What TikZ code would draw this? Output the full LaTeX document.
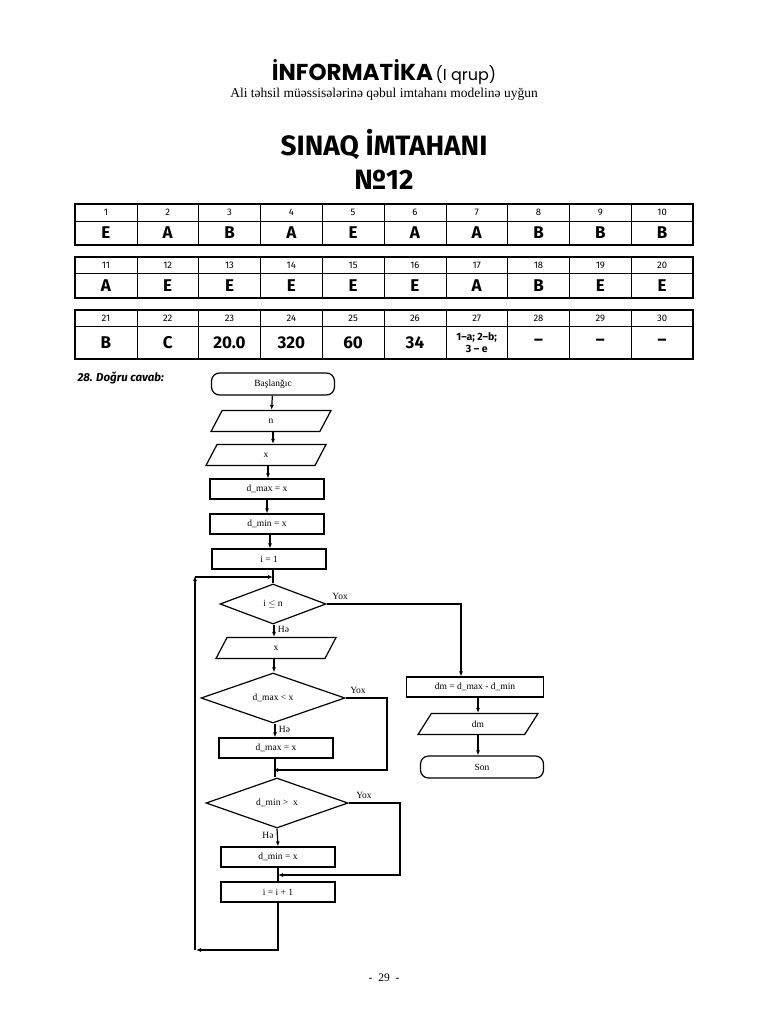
\documentclass[tikz,border=0pt]{standalone}
\usepackage{fontspec}
\setmainfont{Liberation Serif}
\newfontfamily\headfont{Poppins}
\newfontfamily\tabfont[Numbers=Lining]{Fira Sans}
\usetikzlibrary{shapes.geometric,arrows.meta,positioning}

\tikzset{
  blk/.style={draw, line width=1.2pt, minimum height=20pt, font=\fontsize{9.5}{10}\selectfont},
  proc/.style={blk, rectangle, minimum width=114pt},
  io/.style={blk, trapezium, trapezium left angle=45, trapezium right angle=135,
    trapezium stretches body, minimum width=120pt, minimum height=21pt},
  term/.style={blk, rectangle, rounded corners=8pt, minimum width=123pt, minimum height=22pt},
  cond/.style={blk, diamond, aspect=2.6, inner sep=0pt},
  flow/.style={line width=1.2pt, -{Latex[length=5pt,width=4pt]}},
  line/.style={line width=1.2pt},
  lbl/.style={font=\fontsize{9.5}{10}\selectfont}
}

\begin{document}
\begin{tikzpicture}[x=1pt,y=-1pt]
  \useasboundingbox (0,0) rectangle (768,1024);

  % Header
  \node at (384,72) {{\headfont\fontsize{23}{26}\selectfont\bfseries İNFORMATİKA} {\headfont\fontsize{16}{18}\selectfont(I qrup)}};
  \node at (384,94) {\fontsize{13.5}{15}\selectfont Ali təhsil müəssisələrinə qəbul imtahanı modelinə uyğun};
  \node at (384,144) {\tabfont\bfseries\fontsize{28}{30}\selectfont SINAQ İMTAHANI};
  \node at (384,180) {\tabfont\bfseries\fontsize{28}{30}\selectfont №12};

  % Answer table
  \def\cw{61.8}
  \foreach \top/\mid/\bot/\first/\answers in {
      204/221/245/1/{E,A,B,A,E,A,A,B,B,B},
      257/273/298/11/{A,E,E,E,E,E,A,B,E,E},
      310/326/359/21/{B,C,20.0,320,60,34,{\shortstack{1–a; 2–b;\\3 – e}},–,–,–}} {
    \draw[line width=0.5pt] (75,\mid) -- (693,\mid);
    \foreach \k in {1,...,9}
      \draw[line width=0.5pt] (75+\k*\cw,\top) -- (75+\k*\cw,\bot);
    \draw[line width=2pt] (75,\top) rectangle (693,\bot);
    \foreach \a [count=\k from 0] in \answers {
      \pgfmathtruncatemacro{\num}{\first+\k}
      \node[font=\tabfont\fontsize{9.5}{10}\selectfont] at (75+\k*\cw+\cw/2,{(\top+\mid)/2}) {\num};
      \ifnum\num=27
        \node[font=\tabfont\bfseries\fontsize{10.5}{11}\selectfont] at (75+\k*\cw+\cw/2,{(\mid+\bot)/2}) {\a};
      \else
        \node[font=\tabfont\bfseries\fontsize{17}{18}\selectfont] at (75+\k*\cw+\cw/2,{(\mid+\bot)/2}) {\a};
      \fi
    }
  }

  \node[anchor=west, font=\tabfont\bfseries\itshape\fontsize{11.5}{12}\selectfont] at (74,378) {28. Doğru cavab:};

  % Flowchart
  \node[term] (start) at (273,384) {Başlanğıc};
  \node[io] (inn) at (271,421) {n};
  \node[io] (inx) at (266,455) {x};
  \node[proc] (dmax0) at (267,489) {d\_max = x};
  \node[proc] (dmin0) at (267,524) {d\_min = x};
  \node[proc] (ione) at (269,559) {i = 1};
  \node[cond, minimum width=106pt, minimum height=40pt] (loop) at (273,604) {i $\le$ n};
  \node[io] (readx) at (276,648) {x};
  \node[cond, minimum width=144pt, minimum height=50pt] (cmax) at (273,698) {d\_max < x};
  \node[proc] (setmax) at (276,748) {d\_max = x};
  \node[cond, minimum width=142pt, minimum height=50pt] (cmin) at (277,803) {d\_min >\ \ x};
  \node[proc] (setmin) at (278,857) {d\_min = x};
  \node[proc] (inc) at (278,892) {i = i + 1};
  \node[proc, minimum width=137pt] (diff) at (475,687) {dm = d\_max - d\_min};
  \node[io] (outdm) at (478,724) {dm};
  \node[term] (stop) at (482,767) {Son};

  \coordinate (join0) at (273,577);
  \coordinate (join1) at (273,770);
  \coordinate (join2) at (278,875);

  \draw[flow] (start) -- (inn);
  \draw[flow] (inn.south -| start) -- (inx.north -| start);
  \draw[flow] (inx.south -| 268,0) -- (dmax0.north -| 268,0);
  \draw[flow] (dmax0) -- (dmin0);
  \draw[flow] (dmin0.south -| 270,0) -- (ione.north -| 270,0);
  \draw[line] (ione.south -| 273,0) -- (loop.north);
  \draw[flow] (loop.south -| 274,0) -- (readx.north -| 274,0) node[lbl, pos=0.4, right] {Hə};
  \draw[flow] (readx.south -| 274,0) -- (cmax.north -| 274,0);
  \draw[flow] (cmax.south -| 275,0) -- (setmax.north -| 275,0) node[lbl, pos=0.4, right] {Hə};
  \draw[line] (setmax.south -| 275,0) -- (cmin.north -| 275,0);
  \draw[flow] (cmin.south) -- (setmin.north) node[lbl, pos=0.4, left] {Hə};
  \draw[line] (setmin) -- (inc);

  % No branches
  \draw[flow] (loop.east) -- (461,604) node[lbl, pos=0.1, above] {Yox} -- (diff.north -| 461,0);
  \draw[flow] (cmax.east) -- (387,698) node[lbl, pos=0.3, above] {Yox} -- (387,770) -- (join1);
  \draw[flow] (cmin.east) -- (400,803) node[lbl, pos=0.3, above] {Yox} -- (400,875) -- (join2);
  \draw[flow] (diff.south -| 478,0) -- (outdm.north -| 478,0);
  \draw[flow] (outdm.south -| 478,0) -- (stop.north -| 478,0);

  % Loop back
  \draw[flow] (inc.south) -- (278,950) -- (196,950);
  \draw[flow] (195,950) -- (195,576);
  \draw[flow] (195,577) -- (join0);

  \node at (384,978) {\fontsize{11.5}{12}\selectfont -\ \ 29\ \ -};
\end{tikzpicture}
\end{document}
